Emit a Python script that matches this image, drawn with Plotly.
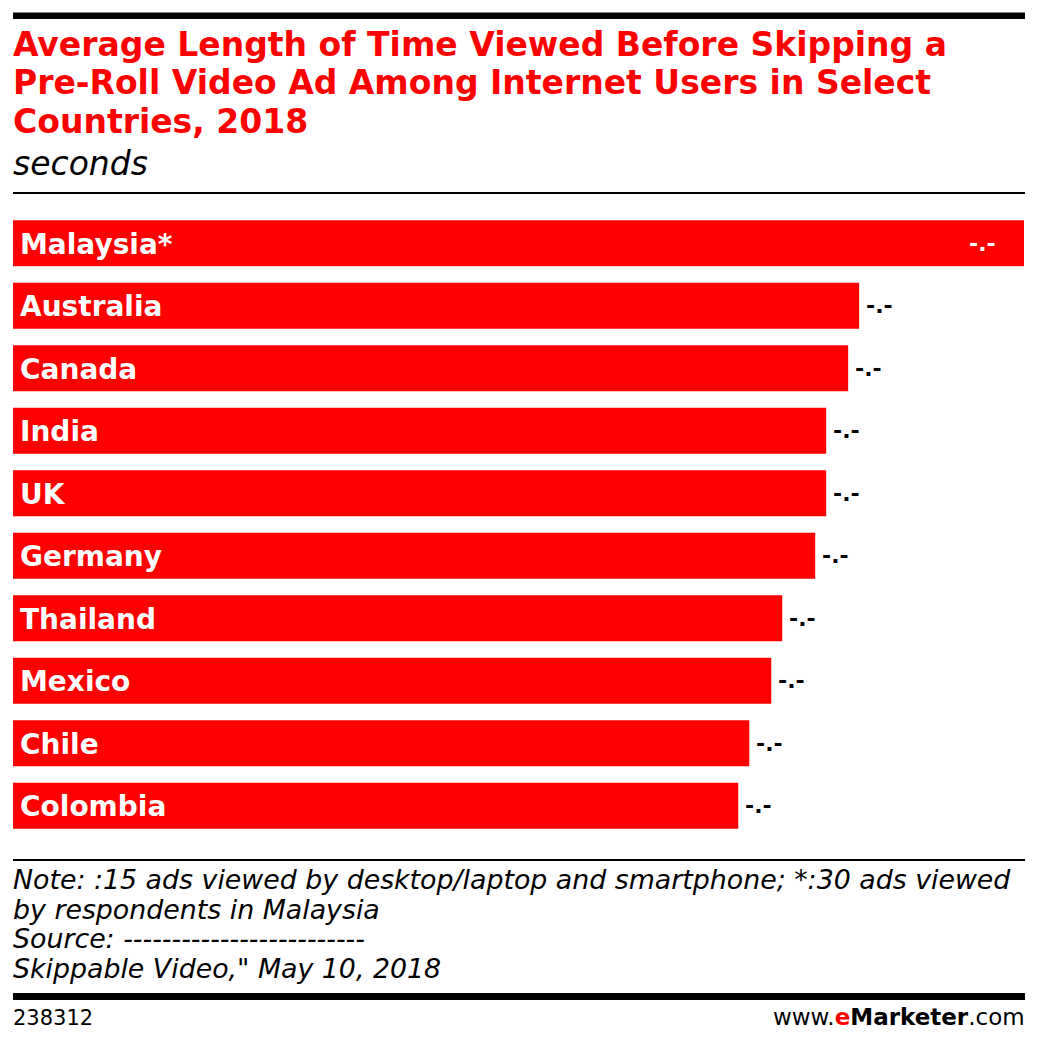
import plotly.graph_objects as go

countries = ["Malaysia*", "Australia", "Canada", "India", "UK", "Germany",
             "Thailand", "Mexico", "Chile", "Colombia"]
seconds = [9.2, 7.7, 7.6, 7.4, 7.4, 7.3, 7.0, 6.9, 6.7, 6.6]
value_labels = ["-.-"] * len(countries)

title_lines = ["Average Length of Time Viewed Before Skipping a",
               "Pre-Roll Video Ad Among Internet Users in Select",
               "Countries, 2018"]
subtitle = "seconds"
note_lines = ["Note: :15 ads viewed by desktop/laptop and smartphone; *:30 ads viewed",
              "by respondents in Malaysia",
              "Source: -------------------------",
              "Skippable Video,\" May 10, 2018"]
chart_id = "238312"

W, H = 1038, 1046
ML, MR, MT, MB = 13, 14, 212, 209
PW = W - ML - MR
PH = H - MT - MB
RED = "#ff0000"
FONT = "DejaVu Sans"


def px(x):
    return (x - ML) / PW


def py(y):
    return (H - MB - y) / PH


fig = go.Figure()
fig.add_trace(go.Bar(
    x=seconds, y=countries, orientation="h",
    marker=dict(color=RED, line=dict(width=0)),
    hoverinfo="skip",
))

ann = []
# Title
for i, line in enumerate(title_lines):
    ann.append(dict(text=line, x=px(11), y=py(58 + i * 38.5), xref="paper", yref="paper",
                    xanchor="left", yanchor="bottom", showarrow=False, yshift=-8,
                    font=dict(family=FONT, size=33, color=RED, weight="bold")))
ann.append(dict(text=subtitle, x=px(11), y=py(177), xref="paper", yref="paper",
                xanchor="left", yanchor="bottom", showarrow=False, yshift=-8,
                font=dict(family=FONT, size=33, color="black", style="italic")))
# Notes
for i, line in enumerate(note_lines):
    ann.append(dict(text=line, x=px(11), y=py(891 + i * 29.5), xref="paper", yref="paper",
                    xanchor="left", yanchor="bottom", showarrow=False, yshift=-6,
                    font=dict(family=FONT, size=26.8, color="black", style="italic")))
ann.append(dict(text=chart_id, x=px(11), y=py(1027), xref="paper", yref="paper",
                xanchor="left", yanchor="bottom", showarrow=False, yshift=-5,
                font=dict(family=FONT, size=21, color="black")))
ann.append(dict(text="www.<b><span style='color:#ff0000'>e</span>Marketer</b>.com",
                x=px(1027), y=py(1027), xref="paper", yref="paper",
                xanchor="right", yanchor="bottom", showarrow=False, yshift=-5,
                font=dict(family=FONT, size=23, color="black")))

# Country labels inside bars and value labels
vmax = max(seconds)
for c, v, lab in zip(countries, seconds, value_labels):
    ann.append(dict(text=c, x=0, y=c, xref="x", yref="y", xanchor="left", yanchor="middle",
                    xshift=5, yshift=-1, showarrow=False,
                    font=dict(family=FONT, size=28, color="white", weight="bold")))
    if v == vmax:
        ann.append(dict(text=lab, x=v, y=c, xref="x", yref="y", xanchor="right",
                        yanchor="middle", xshift=-26, showarrow=False,
                        font=dict(family=FONT, size=22, color="white", weight="bold")))
    else:
        ann.append(dict(text=lab, x=v, y=c, xref="x", yref="y", xanchor="left",
                        yanchor="middle", xshift=5, showarrow=False,
                        font=dict(family=FONT, size=22, color="black", weight="bold")))

shapes = [
    dict(type="rect", xref="paper", yref="paper", x0=px(13), x1=px(1025), y0=py(12.5), y1=py(19),
         fillcolor="black", line=dict(width=0)),
    dict(type="rect", xref="paper", yref="paper", x0=px(13), x1=px(1025), y0=py(192), y1=py(194),
         fillcolor="black", line=dict(width=0)),
    dict(type="rect", xref="paper", yref="paper", x0=px(13), x1=px(1025), y0=py(859), y1=py(861),
         fillcolor="black", line=dict(width=0)),
    dict(type="rect", xref="paper", yref="paper", x0=px(13), x1=px(1025), y0=py(993), y1=py(1000),
         fillcolor="black", line=dict(width=0)),
]

fig.update_layout(
    width=W, height=H,
    margin=dict(l=ML, r=MR, t=MT, b=MB, pad=0),
    paper_bgcolor="white", plot_bgcolor="white",
    showlegend=False, bargap=0.264,
    xaxis=dict(range=[0, vmax], visible=False, fixedrange=True),
    yaxis=dict(autorange="reversed", visible=False, fixedrange=True),
    annotations=ann, shapes=shapes,
)

fig.write_html("out.html", config={"displayModeBar": False})
